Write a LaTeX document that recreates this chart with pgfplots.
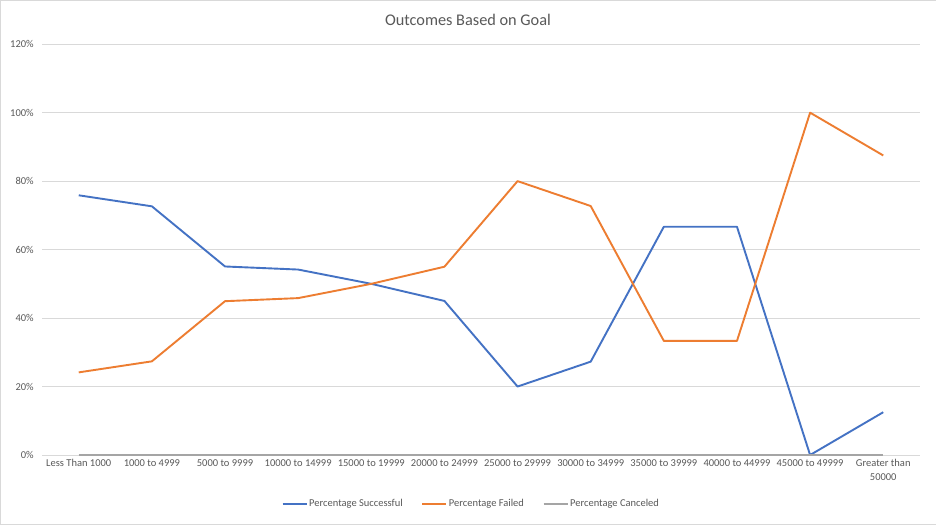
\documentclass[border=0pt]{standalone}
\usepackage{pgfplots}
\pgfplotsset{compat=1.18}
\usepackage{fontspec}
\setmainfont{Carlito}
\definecolor{cblue}{HTML}{4472C4}
\definecolor{corange}{HTML}{ED7D31}
\definecolor{cgray}{HTML}{A5A5A5}
\definecolor{ctext}{HTML}{595959}
\definecolor{cgrid}{HTML}{D9D9D9}
\begin{document}
\begin{tikzpicture}
  \draw[cgrid, fill=white] (0,0) rectangle (936pt,-524pt);
  \node[text=ctext, font=\fontsize{16.3}{19}\selectfont] at (468pt,-20pt) {Outcomes Based on Goal};
  \begin{axis}[
      at={(42pt,-455pt)}, anchor=south west,
      scale only axis,
      width=878pt, height=411pt,
      xmin=-0.5, xmax=11.5,
      ymin=0, ymax=1.2,
      ytick={0,0.2,0.4,0.6,0.8,1.0,1.2},
      yticklabels={0\%,20\%,40\%,60\%,80\%,100\%,120\%},
      xtick={0,...,11},
      xticklabels={Less Than 1000, 1000 to 4999, 5000 to 9999, 10000 to 14999,
        15000 to 19999, 20000 to 24999, 25000 to 29999, 30000 to 34999,
        35000 to 39999, 40000 to 44999, 45000 to 49999, {Greater than\\50000}},
      xticklabel style={align=center, font=\fontsize{10.5}{14}\selectfont, text=ctext, anchor=north, yshift=-1pt},
      yticklabel style={font=\fontsize{10.5}{12}\selectfont, text=ctext, xshift=-5pt},
      major tick length=0pt,
      ymajorgrids=true,
      grid style={cgrid, line width=0.8pt},
      axis line style={draw=none},
      legend style={at={(0.5,-0.119)}, anchor=center, xshift=-10pt, draw=none, fill=none,
        legend columns=3, font=\fontsize{10.5}{12}\selectfont, text=ctext,
        nodes={inner xsep=1.5pt},
        /tikz/every even column/.append style={column sep=17pt}},
      legend image code/.code={\draw[#1, line width=2.2pt] (0pt,0pt) -- (24pt,0pt);},
      every axis plot/.append style={line width=1.9pt, line join=round},
    ]
    \addplot[cblue] coordinates {
      (0,0.7586) (1,0.7264) (2,0.5507) (3,0.5417) (4,0.5000) (5,0.4500)
      (6,0.2000) (7,0.2727) (8,0.6667) (9,0.6667) (10,0.0000) (11,0.1250)
    };
    \addlegendentry{Percentage Successful}
    \addplot[corange] coordinates {
      (0,0.2414) (1,0.2736) (2,0.4493) (3,0.4583) (4,0.5000) (5,0.5500)
      (6,0.8000) (7,0.7273) (8,0.3333) (9,0.3333) (10,1.0000) (11,0.8750)
    };
    \addlegendentry{Percentage Failed}
    \addplot[cgray] coordinates {
      (0,0) (1,0) (2,0) (3,0) (4,0) (5,0)
      (6,0) (7,0) (8,0) (9,0) (10,0) (11,0)
    };
    \addlegendentry{Percentage Canceled}
  \end{axis}
\end{tikzpicture}
\end{document}
